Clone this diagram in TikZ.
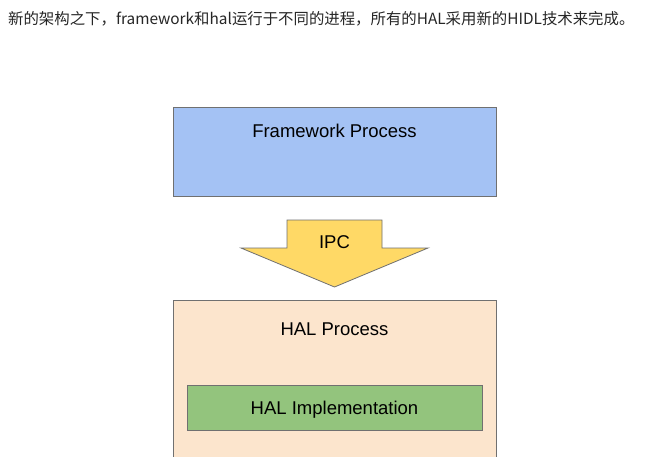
\documentclass[tikz,border=0pt]{standalone}
\usepackage{fontspec}
\setmainfont{Liberation Sans}
\newfontfamily\cjk{Noto Sans CJK SC}
\definecolor{fwblue}{HTML}{A4C2F4}
\definecolor{ipcy}{HTML}{FFD966}
\definecolor{halpeach}{HTML}{FCE5CD}
\definecolor{implg}{HTML}{93C47D}
\definecolor{edge}{HTML}{707070}
\begin{document}
\begin{tikzpicture}[x=1pt,y=-1pt,
  boxst/.style={draw=edge,line width=0.8pt},
  lbl/.style={font=\fontsize{18.5}{21}\selectfont,text=black}]
\useasboundingbox (0,0) rectangle (658,456);
\fill[white] (0,0) rectangle (658,456);
\node[anchor=west,inner sep=0pt,font=\cjk\fontsize{15.4}{18}\selectfont,text=black!85] (title) at (8,19) {新的架构之下，framework和hal运行于不同的进程，所有的HAL采用新的HIDL技术来完成。};
\draw[boxst,fill=fwblue] (173,107) rectangle (496,196);
\node[lbl] (fw) at (334.5,131) {Framework Process};
\draw[boxst,fill=ipcy] (287,220) -- (382,220) -- (382,248) -- (428,248) -- (334.5,287) -- (241,248) -- (287,248) -- cycle;
\node[lbl] (ipc) at (334.5,242) {IPC};
\draw[boxst,fill=halpeach] (173,300) rectangle (496,460);
\node[lbl] (hal) at (334.5,329) {HAL Process};
\draw[boxst,fill=implg] (187,385) rectangle (482,430);
\node[lbl] (impl) at (334.5,410) {HAL Implementation};
\end{tikzpicture}
\end{document}
